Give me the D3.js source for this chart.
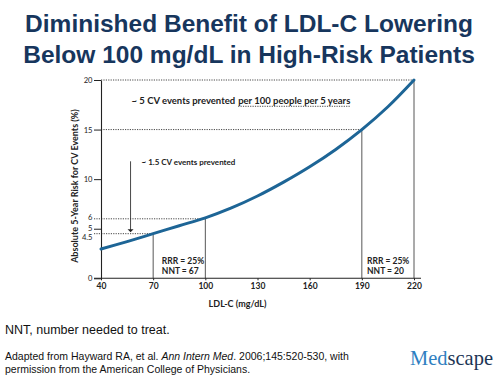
<!DOCTYPE html>
<html>
<head>
<meta charset="utf-8">
<script src="https://cdn.jsdelivr.net/npm/d3@7"></script>
<style>
  html, body { margin: 0; padding: 0; background: #fff; }
  svg { display: block; }
</style>
</head>
<body>
<div id="chart"></div>
<script>
// Curve data: LDL-C (mg/dL) vs 5-year risk (%)
const ldlValues = [40, 55, 70, 85, 100, 115, 130, 145, 160, 175, 190, 205, 220];
const riskValues = [2.95, 3.7, 4.5, 5.3, 6.1, 7.1, 8.3, 9.7, 11.25, 13.0, 15.0, 17.3, 20.0];

// Tick labels
const xTicks = [40, 70, 100, 130, 160, 190, 220];
const yTicks = [0, 4.5, 5, 6, 10, 15, 20];

// Reference points (LDL-C, risk) with dotted guides and drop lines
const refLdl = [70, 100, 190, 220];
const refRisk = [4.5, 6, 15, 20];

// Annotation blocks
const rrrLabels = ['RRR = 25%', 'RRR = 25%'];
const nntLabels = ['NNT = 67', 'NNT = 20'];
const rrrLdl = [75, 193];

const width = 500, height = 375;
const navy = '#17365d';
const curveColor = '#1d6596';
const ink = '#222';
const chartFont = 'Lato, "Open Sans", sans-serif';

const svg = d3.select('#chart').append('svg')
    .attr('width', width)
    .attr('height', height);

// Title
const title = svg.append('text')
    .attr('text-anchor', 'middle')
    .attr('font-family', '"Liberation Sans", Arial, sans-serif')
    .attr('font-weight', 'bold')
    .attr('font-size', 24.5)
    .attr('fill', navy);
title.append('tspan').attr('x', 249).attr('y', 32).text('Diminished Benefit of LDL-C Lowering');
title.append('tspan').attr('x', 249).attr('y', 63).text('Below 100 mg/dL in High-Risk Patients');

// Scales
const x = d3.scaleLinear().domain([40, 220]).range([101, 414]);
const y = d3.scaleLinear().domain([0, 20]).range([278.3, 80]);

const g = svg.append('g');

// Guides at 6 and 4.5 run through the tick area, others start at the axis
const noTick = [4.5, 6];

// Dotted horizontal guides from the y axis to each reference point
g.selectAll('.guide')
    .data(refLdl)
    .enter()
    .append('line')
    .attr('class', 'guide')
    .attr('x1', (d, i) => noTick.includes(refRisk[i]) ? x(40) - 7 : x(40))
    .attr('x2', d => x(d))
    .attr('y1', (d, i) => y(refRisk[i]))
    .attr('y2', (d, i) => y(refRisk[i]))
    .attr('stroke', '#333')
    .attr('stroke-width', 0.9)
    .attr('stroke-dasharray', '1.2,1.2');

// Solid drop lines from the curve to the x axis
g.selectAll('.drop')
    .data(refLdl)
    .enter()
    .append('line')
    .attr('class', 'drop')
    .attr('x1', d => x(d))
    .attr('x2', d => x(d))
    .attr('y1', y(0))
    .attr('y2', (d, i) => y(refRisk[i]))
    .attr('stroke', '#444')
    .attr('stroke-width', 0.9);

// Y axis (the crowded 4.5 / 5 / 6 labels are nudged apart)
const labelShift = { 4.5: '0.8em', 5: '0.22em', 6: '0.12em' };
const yAxis = d3.axisLeft(y)
    .tickValues(yTicks)
    .tickSize(7)
    .tickSizeOuter(0)
    .tickPadding(1.5)
    .tickFormat(d => d);
const yG = g.append('g')
    .attr('transform', `translate(${x(40)},0)`)
    .call(yAxis);
yG.select('.domain').attr('stroke', ink).attr('stroke-width', 1.1);
yG.selectAll('.tick line')
    .attr('stroke', ink)
    .attr('display', d => noTick.includes(d) ? 'none' : null);
yG.selectAll('.tick text')
    .attr('font-family', chartFont)
    .attr('font-size', 7.6)
    .attr('fill', ink)
    .attr('dy', d => labelShift[d] || '0.32em');

// X axis
const xAxis = d3.axisBottom(x)
    .tickValues(xTicks)
    .tickSize(2)
    .tickSizeOuter(0)
    .tickPadding(3);
const xG = g.append('g')
    .attr('transform', `translate(0,${y(0)})`)
    .call(xAxis);
xG.select('.domain').remove();
xG.selectAll('.tick line').attr('stroke', ink);
xG.selectAll('.tick text')
    .attr('font-family', chartFont)
    .attr('font-size', 8.5)
    .attr('font-weight', 'bold')
    .attr('fill', ink);
g.append('line')
    .attr('x1', x(40) - 7)
    .attr('x2', x(220) + 7)
    .attr('y1', y(0))
    .attr('y2', y(0))
    .attr('stroke', ink)
    .attr('stroke-width', 1.1);

// Risk curve
const curveData = ldlValues.map((d, i) => ({ ldl: d, risk: riskValues[i] }));
const line = d3.line()
    .x(d => x(d.ldl))
    .y(d => y(d.risk))
    .curve(d3.curveCatmullRom);
g.append('path')
    .datum(curveData)
    .attr('d', line)
    .attr('fill', 'none')
    .attr('stroke', curveColor)
    .attr('stroke-width', 3)
    .attr('stroke-linecap', 'round');

// Axis titles
svg.append('text')
    .attr('transform', `translate(78,${y(9.3)}) rotate(-90)`)
    .attr('text-anchor', 'middle')
    .attr('font-family', chartFont)
    .attr('font-weight', 'bold')
    .attr('font-size', 9)
    .attr('fill', ink)
    .text('Absolute 5-Year Risk for CV Events (%)');

svg.append('text')
    .attr('x', 237.5)
    .attr('y', 307)
    .attr('text-anchor', 'middle')
    .attr('font-family', chartFont)
    .attr('font-weight', 'bold')
    .attr('font-size', 9)
    .attr('fill', ink)
    .text('LDL-C (mg/dL)');

// Annotation: ~5 CV events prevented per 100 people per 5 years
const noteY = y(17.6);
const note1 = svg.append('text')
    .attr('x', 131.5)
    .attr('y', noteY)
    .attr('font-family', chartFont)
    .attr('font-weight', 'bold')
    .attr('font-size', 9.5)
    .attr('fill', ink)
    .text('~ 5 CV events prevented');
const gap = 3;
const note2X = 131.5 + note1.node().getComputedTextLength() + gap;
const note2 = svg.append('text')
    .attr('x', note2X)
    .attr('y', noteY)
    .attr('font-family', chartFont)
    .attr('font-weight', 'bold')
    .attr('font-size', 9.5)
    .attr('fill', ink)
    .text('per 100 people per 5 years');
svg.append('line')
    .attr('x1', note2X)
    .attr('x2', note2X + note2.node().getComputedTextLength())
    .attr('y1', noteY + 2.5)
    .attr('y2', noteY + 2.5)
    .attr('stroke', '#333')
    .attr('stroke-width', 0.9)
    .attr('stroke-dasharray', '1.2,1.2');

// Annotation: ~1.5 CV events prevented with arrow
const arrowX = x(57);
svg.append('line')
    .attr('x1', arrowX)
    .attr('x2', arrowX)
    .attr('y1', y(11.8))
    .attr('y2', y(4.75))
    .attr('stroke', '#333')
    .attr('stroke-width', 0.9);
svg.append('path')
    .attr('d', `M${arrowX - 3},${y(4.95)} L${arrowX + 3},${y(4.95)} L${arrowX},${y(4.65)} Z`)
    .attr('fill', '#222');
svg.append('text')
    .attr('x', arrowX + 11)
    .attr('y', y(11.45))
    .attr('font-family', chartFont)
    .attr('font-weight', 'bold')
    .attr('font-size', 8)
    .attr('fill', ink)
    .text('~ 1.5 CV events prevented');

// RRR / NNT boxes
rrrLdl.forEach((d, i) => {
    const t = svg.append('text')
        .attr('font-family', chartFont)
        .attr('font-weight', 'bold')
        .attr('font-size', 8.5)
        .attr('fill', ink);
    t.append('tspan').attr('x', x(d)).attr('y', 264).text(rrrLabels[i]);
    t.append('tspan').attr('x', x(d)).attr('y', 274).text(nntLabels[i]);
});

// Footnotes
svg.append('text')
    .attr('x', 5)
    .attr('y', 334)
    .attr('font-family', '"Liberation Sans", Arial, sans-serif')
    .attr('font-size', 12.5)
    .attr('fill', '#111')
    .text('NNT, number needed to treat.');

const src = svg.append('text')
    .attr('font-family', '"Liberation Sans", Arial, sans-serif')
    .attr('font-size', 10.5)
    .attr('fill', '#111');
const l1 = src.append('tspan').attr('x', 5).attr('y', 360);
l1.append('tspan').text('Adapted from Hayward RA, et al. ');
l1.append('tspan').attr('font-style', 'italic').text('Ann Intern Med');
l1.append('tspan').text('. 2006;145:520-530, with');
src.append('tspan').attr('x', 5).attr('y', 373).text('permission from the American College of Physicians.');

// Medscape logo
const logo = svg.append('text')
    .attr('x', 410)
    .attr('y', 365)
    .attr('font-family', '"Liberation Serif", "Times New Roman", serif')
    .attr('font-size', 21)
    .attr('textLength', 83)
    .attr('lengthAdjust', 'spacingAndGlyphs');
logo.append('tspan').attr('fill', '#2f7fc1').text('Med');
logo.append('tspan').attr('fill', '#1c3555').text('scape');
</script>
</body>
</html>
